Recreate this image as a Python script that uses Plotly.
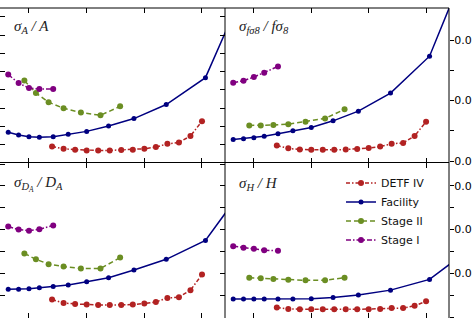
import plotly.graph_objects as go
from plotly.subplots import make_subplots

# redshift samples of each survey
z_facility = [0.32, 0.41, 0.50, 0.59, 0.71, 0.84, 1.00, 1.19, 1.41, 1.69, 2.03, 2.45]
z_detf = [0.7, 0.8, 0.9, 1.0, 1.1, 1.2, 1.3, 1.4, 1.5, 1.6, 1.7, 1.8, 1.9, 2.0]
z_stage2 = [0.46, 0.56, 0.67, 0.80, 0.95, 1.12, 1.29]
z_stage1 = [0.32, 0.41, 0.50, 0.59, 0.71]

# panel: sigma_A / A
A_facility = [1.68, 1.53, 1.44, 1.41, 1.44, 1.57, 1.73, 2.02, 2.43, 3.20, 4.67, 10.7]
A_detf = [0.90, 0.78, 0.73, 0.69, 0.69, 0.69, 0.71, 0.73, 0.78, 0.87, 1.05, 1.12, 1.48, 2.29]
A_stage2 = [4.51, 3.83, 3.33, 2.99, 2.76, 2.61, 3.10]
A_stage1 = [4.84, 4.37, 4.10, 4.05, 4.05]

# panel: sigma_fs8 / f sigma8
F_facility = [0.71, 0.74, 0.77, 0.82, 0.90, 1.00, 1.11, 1.33, 1.65, 2.25, 3.47, 7.39]
F_detf = [0.51, 0.42, 0.38, 0.37, 0.37, 0.37, 0.38, 0.40, 0.43, 0.48, 0.57, 0.60, 0.83, 1.30]
F_stage2 = [1.18, 1.18, 1.19, 1.22, 1.30, 1.41, 1.71]
F_stage1 = [2.59, 2.66, 2.78, 2.92, 3.13]

# panel: sigma_DA / D_A
D_facility = [1.27, 1.27, 1.29, 1.34, 1.40, 1.47, 1.61, 1.80, 2.15, 2.64, 3.50, 6.55]
D_detf = [0.80, 0.64, 0.60, 0.57, 0.55, 0.55, 0.55, 0.57, 0.62, 0.69, 0.87, 0.91, 1.23, 1.94]
D_stage2 = [2.91, 2.64, 2.42, 2.31, 2.22, 2.22, 2.72]
D_stage1 = [4.14, 4.00, 3.95, 4.02, 4.19]

# panel: sigma_H / H
H_facility = [0.83, 0.83, 0.83, 0.83, 0.83, 0.83, 0.84, 0.89, 1.01, 1.23, 1.72, 3.39]
H_detf = [0.44, 0.37, 0.36, 0.35, 0.35, 0.35, 0.35, 0.35, 0.36, 0.37, 0.41, 0.41, 0.51, 0.72]
H_stage2 = [1.80, 1.77, 1.74, 1.71, 1.68, 1.68, 1.80]
H_stage1 = [3.24, 3.17, 3.12, 3.06, 3.03]

series_names = ["DETF IV", "Facility", "Stage II", "Stage I"]
panel_titles = ["σ<sub>A</sub> / A", "σ<sub>fσ8</sub> / fσ<sub>8</sub>",
                "σ<sub>D<sub>A</sub></sub> / D<sub>A</sub>", "σ<sub>H</sub> / H"]
x_ticks = [0.5, 1.0, 1.5, 2.0]
right_top_major = [0, 2, 4]
right_top_minor = [1, 3]
right_top_text = ["0.0", "0.0", "0.0"]
right_bot_major = [0, 2, 4, 6]
right_bot_minor = [1, 3, 5]
right_bot_text = ["0.0", "0.0", "0.0", "0.0"]

colors = {"DETF IV": "#B22222", "Facility": "#000080", "Stage II": "#6B8E23", "Stage I": "#800080"}
dashes = {"DETF IV": "4px,2px,1.5px,2px", "Facility": "solid", "Stage II": "5px,3px",
          "Stage I": "5px,2px,1.5px,2px"}
msize = {"DETF IV": 6, "Facility": 5, "Stage II": 6, "Stage I": 6}

panels = [
    (1, 1, [(z_detf, A_detf), (z_facility, A_facility), (z_stage2, A_stage2), (z_stage1, A_stage1)]),
    (1, 2, [(z_detf, F_detf), (z_facility, F_facility), (z_stage2, F_stage2), (z_stage1, F_stage1)]),
    (2, 1, [(z_detf, D_detf), (z_facility, D_facility), (z_stage2, D_stage2), (z_stage1, D_stage1)]),
    (2, 2, [(z_detf, H_detf), (z_facility, H_facility), (z_stage2, H_stage2), (z_stage1, H_stage1)]),
]

fig = make_subplots(rows=2, cols=2, horizontal_spacing=0, vertical_spacing=0)

for r, c, data in panels:
    for name, (xs, ys) in zip(series_names, data):
        fig.add_trace(go.Scatter(
            x=xs, y=ys, mode="lines+markers", name=name,
            showlegend=(r == 2 and c == 2),
            line=dict(color=colors[name], width=1.5, dash=dashes[name]),
            marker=dict(color=colors[name], size=msize[name]),
        ), row=r, col=c)

W, H = 474, 323
mt, mr = 8, 25
pw, ph = W - mr, H - mt
xsplit = 225 / pw
ysplit = (H - 165) / ph

xr = [0.2486, 2.1995]
common_x = dict(range=xr, tickvals=x_ticks, ticks="inside", ticklen=5, tickcolor="black",
                mirror="ticks", showticklabels=False, showgrid=False, zeroline=False, showline=False)
fig.update_xaxes(**common_x)
fig.update_layout(
    xaxis=dict(domain=[0, xsplit]), xaxis2=dict(domain=[xsplit, 1]),
    xaxis3=dict(domain=[0, xsplit]), xaxis4=dict(domain=[xsplit, 1]),
)
left_y = dict(ticks="inside", ticklen=5, tickcolor="black", mirror="ticks", showticklabels=False,
              showgrid=False, zeroline=False, showline=False, tick0=0, dtick=1)
right_y = dict(side="right", ticks="outside", ticklen=4, tickcolor="black", showgrid=False,
               zeroline=False, showline=False, tickmode="array", ticklabelstandoff=-2,
               tickfont=dict(family="DejaVu Sans", size=11, color="black"))
fig.update_layout(
    yaxis=dict(domain=[ysplit, 1], range=[0.027, 8.48], **left_y),
    yaxis2=dict(domain=[ysplit, 1], range=[-0.049, 5.065], tickvals=right_top_major,
                ticktext=right_top_text,
                minor=dict(tickmode="array", tickvals=right_top_minor, ticks="outside",
                           ticklen=4, tickcolor="black", showgrid=False),
                **right_y),
    yaxis3=dict(domain=[0, ysplit], range=[-0.045, 7.07], **left_y),
    yaxis4=dict(domain=[0, ysplit], range=[-0.045, 7.07], tickvals=right_bot_major,
                ticktext=right_bot_text,
                minor=dict(tickmode="array", tickvals=right_bot_minor, ticks="outside",
                           ticklen=4, tickcolor="black", showgrid=False),
                **right_y),
)

# panel frame lines
frame = dict(type="line", xref="paper", yref="paper", line=dict(color="black", width=1))
fig.add_shape(x0=0, x1=1, y0=1, y1=1, **frame)
fig.add_shape(x0=0, x1=1, y0=ysplit, y1=ysplit, **frame)
fig.add_shape(x0=xsplit, x1=xsplit, y0=0, y1=1, **frame)
fig.add_shape(x0=1, x1=1, y0=0, y1=1, **frame)

title_pos = [(12 / pw, (H - 27) / ph), ((225 + 12) / pw, (H - 27) / ph),
             (12 / pw, (H - 187) / ph), ((225 + 12) / pw, (H - 187) / ph)]
for t, (tx, ty) in zip(panel_titles, title_pos):
    fig.add_annotation(text="<i>" + t + "</i>", x=tx, y=ty, xref="paper", yref="paper",
                       xanchor="left", yanchor="middle", showarrow=False,
                       font=dict(family="Liberation Serif", size=15, color="#222"))

fig.update_layout(
    width=W, height=H, margin=dict(l=0, r=mr, t=mt, b=0),
    paper_bgcolor="white", plot_bgcolor="white",
    font=dict(family="DejaVu Sans", size=11, color="black"),
    legend=dict(x=(384 - 43) / pw, y=(H - 171) / ph, xanchor="left", yanchor="top",
                bgcolor="rgba(0,0,0,0)", font=dict(family="DejaVu Sans", size=11, color="#111"),
                itemwidth=30, tracegroupgap=0),
)

fig.write_html("out.html")
